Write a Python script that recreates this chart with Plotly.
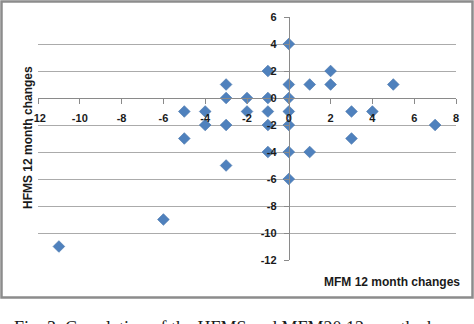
import plotly.graph_objects as go

# Data: MFM 12 month changes (x) vs HFMS 12 month changes (y)
mfm_changes = [-11, -6, -5, -5, -4, -4, -3, -3, -3, -3, -2, -2, -1, -1, -1, -1, -1,
               0, 0, 0, 0, 0, 0, 0, 1, 1, 2, 2, 3, 3, 4, 5, 7]
hfms_changes = [-11, -9, -1, -3, -1, -2, 1, 0, -2, -5, 0, -1, 2, 0, -1, -2, -4,
                4, 1, 0, -1, -2, -4, -6, 1, -4, 2, 1, -1, -3, -1, 1, -2]

x_ticks = [-12, -10, -8, -6, -4, -2, 0, 2, 4, 6, 8]
y_ticks = [-12, -10, -8, -6, -4, -2, 0, 2, 4, 6]

x_title = "MFM 12 month changes"
y_title = "HFMS 12 month changes"
caption = "Fig. 3  Correlation of the HFMS and MFM20 12 month changes"

W, H = 474, 324
L, R, T, B = 38, 18, 17, 64
pw, ph = W - L - R, H - T - B

def px_x(p):
    return (p - L) / pw

def px_y(p):
    return (H - B - p) / ph

fig = go.Figure()
fig.add_trace(go.Scatter(
    x=mfm_changes, y=hfms_changes, mode="markers",
    marker=dict(symbol="diamond", size=9, color="#4F81BD",
                line=dict(width=0.6, color="#3F6FA8")),
    showlegend=False, cliponaxis=False,
))

tick_font = dict(family="Liberation Sans", size=11, color="#1a1a1a", weight="bold")
axis_col = "#8a8a8a"

fig.update_layout(
    width=W, height=H,
    margin=dict(l=L, r=R, t=T, b=B),
    paper_bgcolor="white", plot_bgcolor="white",
    xaxis=dict(
        range=[-12, 8], tickvals=x_ticks, ticktext=[str(v) for v in x_ticks],
        showgrid=False, zeroline=False,
        showline=True, linecolor=axis_col, linewidth=1,
        ticks="outside", ticklen=5, tickcolor=axis_col, tickwidth=1,
        ticklabelstandoff=5,
        anchor="free", position=(0 - (-12)) / 18,
        tickfont=tick_font,
    ),
    yaxis=dict(
        range=[-12, 6], tickvals=y_ticks, ticktext=[str(v) for v in y_ticks],
        showgrid=True, gridcolor="#ababab", gridwidth=1, zeroline=False,
        showline=True, linecolor=axis_col, linewidth=1,
        ticks="outside", ticklen=5, tickcolor=axis_col, tickwidth=1,
        ticklabelstandoff=5,
        anchor="free", position=(0 - (-12)) / 20,
        tickfont=tick_font,
    ),
)

# outer chart frame
fig.add_shape(type="rect", xref="paper", yref="paper",
              x0=px_x(1.5), x1=px_x(472.5), y0=px_y(297.5), y1=px_y(1.5),
              line=dict(color="#8c8c8c", width=2.5), layer="below")

fig.add_annotation(text="<b>" + y_title + "</b>", xref="paper", yref="paper",
                   x=px_x(28), y=px_y(138), textangle=-90, showarrow=False,
                   xanchor="center", yanchor="middle",
                   font=dict(family="Liberation Sans", size=12, color="#1a1a1a"))
fig.add_annotation(text="<b>" + x_title + "</b>", xref="paper", yref="paper",
                   x=px_x(462), y=px_y(282), showarrow=False,
                   xanchor="right", yanchor="middle",
                   font=dict(family="Liberation Serif", size=12, color="#1a1a1a")
                   if False else dict(family="Liberation Sans", size=12, color="#1a1a1a"))
fig.add_annotation(text=caption, xref="paper", yref="paper",
                   x=px_x(12), y=px_y(316), showarrow=False,
                   xanchor="left", yanchor="top",
                   font=dict(family="Liberation Serif", size=18, color="#1a1a1a"))

fig.write_html("out.html")
